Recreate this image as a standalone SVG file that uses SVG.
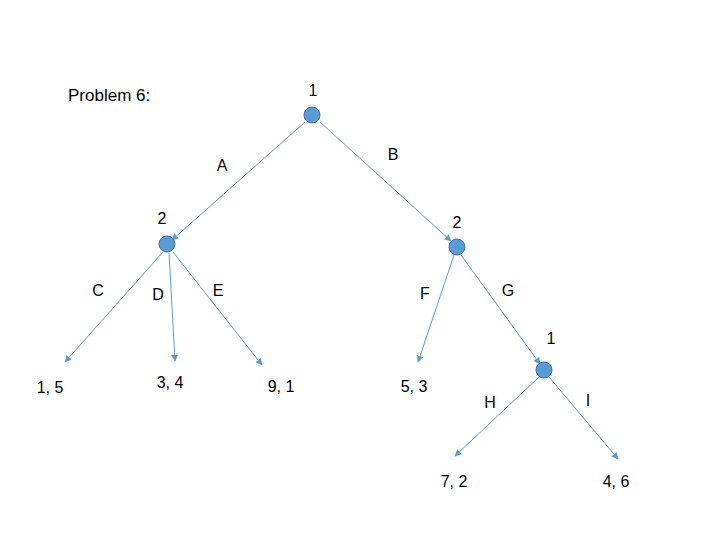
<svg xmlns="http://www.w3.org/2000/svg" width="719" height="535" viewBox="0 0 719 535">
<style>
text{font-family:"Liberation Sans",Arial,sans-serif;font-size:16px;fill:#000;text-anchor:middle}
.n{fill:#5b9bd5;stroke:#41719c;stroke-width:1}
.e{stroke:#5b9bd5;stroke-width:1;fill:none;marker-end:url(#ah)}
</style>
<defs><marker id="ah" viewBox="0 0 10 10" refX="9" refY="5" markerWidth="7" markerHeight="7" orient="auto" markerUnits="userSpaceOnUse"><path d="M0,0L10,5L0,10z" fill="#5b9bd5"/></marker></defs>
<rect width="719" height="535" fill="#fff"/>
<text x="68" y="101" style="text-anchor:start;font-size:17px">Problem 6:</text>
<g id="connectors">
<line class="e" x1="305" y1="122" x2="172" y2="240"/>
<line class="e" x1="320" y1="122" x2="451" y2="241"/>
<line class="e" x1="163" y1="252" x2="65" y2="362"/>
<line class="e" x1="169" y1="253" x2="175" y2="361"/>
<line class="e" x1="173" y1="252" x2="262" y2="365"/>
<line class="e" x1="454" y1="255" x2="418" y2="362"/>
<line class="e" x1="461" y1="255" x2="540" y2="364"/>
<line class="e" x1="539" y1="377" x2="455" y2="456"/>
<line class="e" x1="549" y1="377" x2="618" y2="459"/>
<text x="222" y="171">A</text><text x="393" y="160">B</text>
<text x="98" y="296">C</text><text x="158" y="300">D</text><text x="218" y="296">E</text>
<text x="425" y="299">F</text><text x="508" y="296">G</text>
<text x="490" y="408">H</text><text x="588" y="406">I</text>
</g>
<g id="n1"><circle class="n" cx="312" cy="115" r="8"/><text x="313" y="96">1</text></g>
<g id="n2"><circle class="n" cx="167" cy="244" r="8"/><text x="162" y="224">2</text></g>
<g id="n3"><circle class="n" cx="457" cy="247" r="8"/><text x="457" y="228">2</text></g>
<g id="n4"><circle class="n" cx="544" cy="370" r="8"/><text x="551" y="344">1</text></g>
<g id="l1"><text x="50" y="393">1, 5</text></g>
<g id="l2"><text x="170" y="388">3, 4</text></g>
<g id="l3"><text x="281" y="392">9, 1</text></g>
<g id="l4"><text x="414" y="392">5, 3</text></g>
<g id="l5"><text x="454" y="487">7, 2</text></g>
<g id="l6"><text x="616" y="487">4, 6</text></g>
</svg>
